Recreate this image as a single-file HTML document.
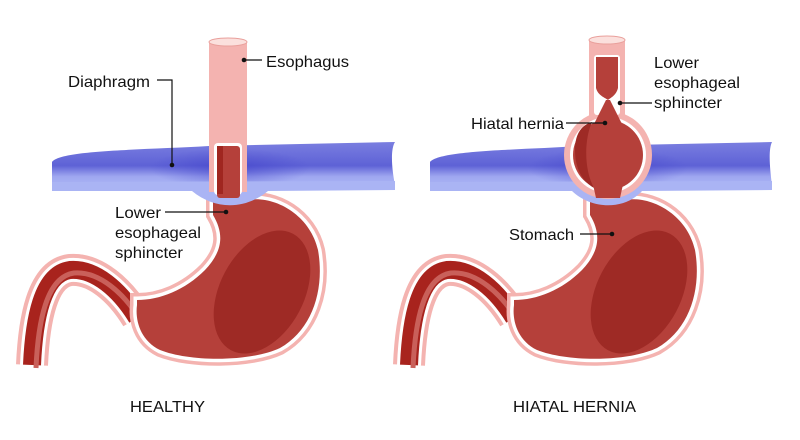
<!DOCTYPE html>
<html><head><meta charset="utf-8"><style>html,body{margin:0;padding:0;background:#fff}svg{display:block}</style></head>
<body>
<svg width="800" height="440" viewBox="0 0 800 440" xmlns="http://www.w3.org/2000/svg" font-family="Liberation Sans, sans-serif" font-size="16" fill="#111">
<defs>
<linearGradient id="dg" x1="0" y1="0" x2="0" y2="1">
<stop offset="0" stop-color="#7a7ee0"/><stop offset="0.55" stop-color="#5e62d6"/><stop offset="0.8" stop-color="#9ea6f0"/><stop offset="1" stop-color="#aab4f4"/>
</linearGradient>
<radialGradient id="dc" cx="0.5" cy="0.5" r="0.5"><stop offset="0" stop-color="#3c3cc8" stop-opacity="0.6"/><stop offset="1" stop-color="#3c3cc8" stop-opacity="0"/></radialGradient>
<g id="stom">
  <path id="sp" d="M213 200 L247 200 C275 195 310 215 318 250 C325 290 312 330 280 348 C250 362 190 362 160 350 C140 340 135 320 137 305 L137 300 C160 300 185 290 205 270 C222 252 225 235 213 215 Z"/>
  <path id="du" d="M137 318 C120 290 95 268 70 270 C42 274 34 320 32 365" fill="none"/>
</g>
</defs>

<g>
  <use href="#du" stroke="#f4b3b0" stroke-width="32"/>
  <use href="#du" stroke="#fff" stroke-width="24"/>
  <use href="#du" stroke="#a8231d" stroke-width="18"/>
  <use href="#du" stroke="#c9605a" stroke-width="5" transform="translate(4,3)"/>
  <use href="#sp" fill="none" stroke="#f4b3b0" stroke-width="14"/>
  <use href="#sp" fill="none" stroke="#fff" stroke-width="7"/>
  <use href="#sp" fill="#b5403a"/>
  <ellipse cx="262" cy="292" rx="42" ry="66" transform="rotate(28 262 292)" fill="#9e2a25"/>
  <rect x="209" y="42" width="38" height="110" fill="#f4b3b0"/>
  <ellipse cx="228" cy="42" rx="19" ry="4" fill="#fbe0dd" stroke="#e9a09c"/>
  <path d="M52 185 L52 162 C60 150 140 150 209 146 L395 142 C390 150 392 170 395 185 Z" fill="url(#dg)"/>
  <ellipse cx="230" cy="168" rx="80" ry="20" fill="url(#dc)"/>
  <path d="M52 182 L395 181 L395 190 L268 191 C245 210 215 210 192 191 L52 191Z" fill="#aab4f4"/>
  <rect x="209" y="140" width="38" height="52" fill="#f4b3b0"/>
  <rect x="214" y="143" width="28" height="52" rx="4" fill="#fff"/>
  <rect x="217" y="146" width="23" height="52" rx="3" fill="#b5403a"/>
  <rect x="217" y="146" width="6" height="48" fill="#a02620"/>
</g>

<g transform="translate(377,0)">
  <use href="#du" stroke="#f4b3b0" stroke-width="32"/>
  <use href="#du" stroke="#fff" stroke-width="24"/>
  <use href="#du" stroke="#a8231d" stroke-width="18"/>
  <use href="#du" stroke="#c9605a" stroke-width="5" transform="translate(4,3)"/>
  <use href="#sp" fill="none" stroke="#f4b3b0" stroke-width="14"/>
  <use href="#sp" fill="none" stroke="#fff" stroke-width="7"/>
  <use href="#sp" fill="#b5403a"/>
  <ellipse cx="262" cy="292" rx="42" ry="66" transform="rotate(28 262 292)" fill="#9e2a25"/>
</g>
<g>
  <path d="M430 185 L430 162 C440 150 520 150 580 146 L772 142 C768 150 770 170 772 185 Z" fill="url(#dg)"/>
  <ellipse cx="608" cy="168" rx="80" ry="20" fill="url(#dc)"/>
  <path d="M430 182 L772 181 L772 190 L642 191 C625 210 592 210 572 191 L430 191Z" fill="#aab4f4"/>
  <rect x="589" y="40" width="36" height="80" fill="#f4b3b0"/>
  <circle cx="608" cy="155" r="44" fill="#f4b3b0"/>
  <circle cx="608" cy="155" r="38" fill="#fff"/>
  <rect x="594" y="55" width="26" height="60" rx="3" fill="#fff"/>
  <circle cx="608" cy="155" r="35" fill="#b5403a"/>
  <path d="M596 57 L618 57 L618 88 C616 96 610 98 608 100 C606 98 598 96 596 88 Z" fill="#b5403a"/>
  <path d="M606 100 L610 100 L622 124 L594 124Z" fill="#b5403a"/>
  <path d="M592 180 L624 180 L620 198 L596 198Z" fill="#b5403a"/>
  <path d="M575 150 C575 130 585 124 592 122 C584 140 584 170 594 188 C580 180 575 165 575 150Z" fill="#9e2a25"/>
  <ellipse cx="607" cy="40" rx="18" ry="4" fill="#fbe0dd" stroke="#e9a09c"/>
</g>

<g stroke="#111" stroke-width="1.2" fill="none">
  <path d="M157 80 H172 V165"/><path d="M244 60 H262"/><path d="M165 212 H226"/>
  <path d="M620 103 H652"/><path d="M566 123 H605"/><path d="M580 234 H612"/>
</g>
<g fill="#111">
  <circle cx="172" cy="165" r="2.3"/><circle cx="244" cy="60" r="2.3"/><circle cx="226" cy="212" r="2.3"/>
  <circle cx="620" cy="103" r="2.3"/><circle cx="605" cy="123" r="2.3"/><circle cx="612" cy="234" r="2.3"/>
</g>
<text x="266" y="67" textLength="83" lengthAdjust="spacingAndGlyphs">Esophagus</text>
<text x="68" y="87" textLength="82" lengthAdjust="spacingAndGlyphs">Diaphragm</text>
<text x="115" y="218" textLength="46" lengthAdjust="spacingAndGlyphs">Lower</text>
<text x="115" y="238" textLength="86" lengthAdjust="spacingAndGlyphs">esophageal</text>
<text x="115" y="258" textLength="68" lengthAdjust="spacingAndGlyphs">sphincter</text>
<text x="130" y="412" textLength="75" lengthAdjust="spacingAndGlyphs">HEALTHY</text>
<text x="654" y="68" textLength="45" lengthAdjust="spacingAndGlyphs">Lower</text>
<text x="654" y="88" textLength="86" lengthAdjust="spacingAndGlyphs">esophageal</text>
<text x="654" y="108" textLength="68" lengthAdjust="spacingAndGlyphs">sphincter</text>
<text x="471" y="129" textLength="93" lengthAdjust="spacingAndGlyphs">Hiatal hernia</text>
<text x="509" y="240" textLength="65" lengthAdjust="spacingAndGlyphs">Stomach</text>
<text x="513" y="412" textLength="123" lengthAdjust="spacingAndGlyphs">HIATAL HERNIA</text>
</svg>
</body></html>
